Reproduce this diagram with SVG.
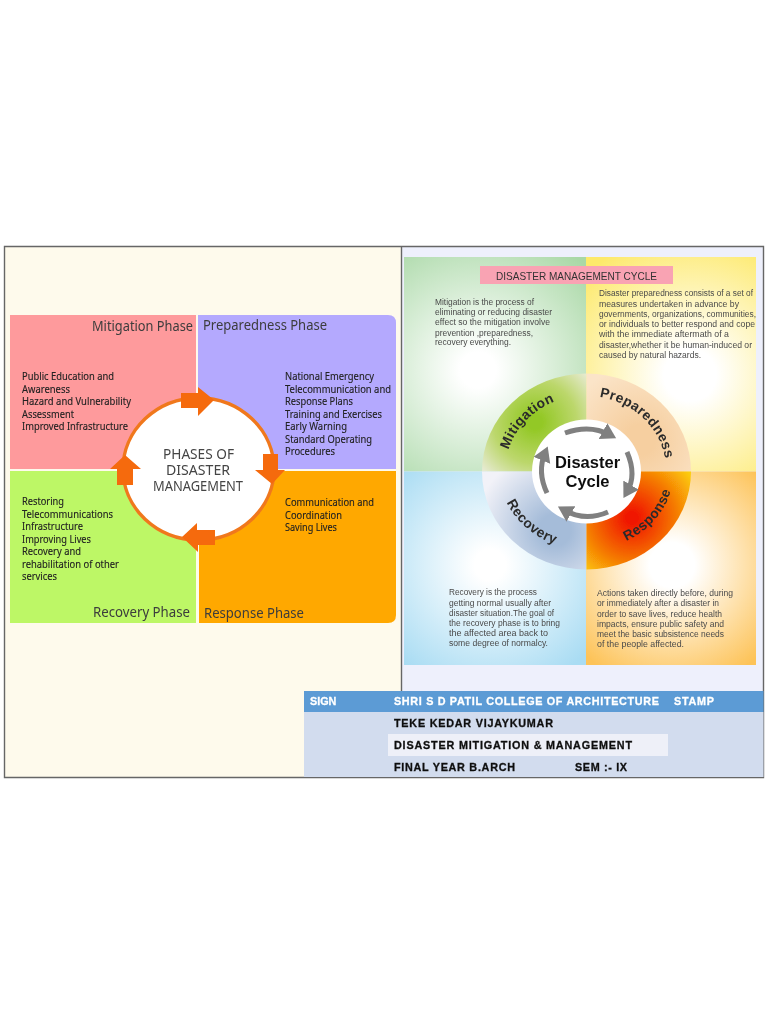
<svg xmlns="http://www.w3.org/2000/svg" width="768" height="1024" viewBox="0 0 768 1024">
<style>
.s{font-family:"Noto Sans","Open Sans",sans-serif;font-size:10px;fill:#222;stroke:#222;stroke-width:.12px}
.h{font-family:"Noto Sans","Open Sans",sans-serif;font-size:14px;fill:#3c3c3c}
.c{font-family:"Noto Sans","Open Sans",sans-serif;font-size:14.5px;fill:#444}
.d{font-family:"Liberation Sans",Arial,sans-serif;font-size:8.400px;fill:#4a4a4a}
.a{font-family:"Liberation Sans",Arial,sans-serif;font-weight:bold;font-size:13.800px;fill:#2b2b2b;letter-spacing:.4px}
.b{font-family:"Liberation Sans",Arial,sans-serif;font-weight:bold;font-size:10.800px;fill:#111;stroke:#111;stroke-width:.3px}
.w{fill:#fff;stroke:#fff}
.ar{fill:#f56a0c}
.g{fill:none;stroke:#808080;stroke-width:5;marker-end:url(#gh)}
</style>
<defs>
<filter id="soft" filterUnits="userSpaceOnUse" x="0" y="0" width="768" height="1024"><feGaussianBlur stdDeviation="0.4"/></filter>
<marker id="gh" markerUnits="userSpaceOnUse" markerWidth="20" markerHeight="20" refX="8" refY="9" orient="auto"><path d="M0,0L15,9L0,18Z" fill="#808080"/></marker>
<radialGradient id="q1" gradientUnits="userSpaceOnUse" cx="478" cy="370" r="150"><stop offset=".12" stop-color="#fff"/><stop offset="1" stop-color="#a9d8a6"/></radialGradient>
<radialGradient id="q2" gradientUnits="userSpaceOnUse" cx="690" cy="375" r="145"><stop offset=".18" stop-color="#fff"/><stop offset="1" stop-color="#fde96a"/></radialGradient>
<radialGradient id="q3" gradientUnits="userSpaceOnUse" cx="490" cy="565" r="130"><stop offset=".12" stop-color="#fff"/><stop offset="1" stop-color="#a9dcf3"/></radialGradient>
<radialGradient id="q4" gradientUnits="userSpaceOnUse" cx="672" cy="565" r="125"><stop offset=".18" stop-color="#fff"/><stop offset="1" stop-color="#fdc358"/></radialGradient>
<radialGradient id="r1" gradientUnits="userSpaceOnUse" cx="535" cy="422" r="70"><stop offset=".1" stop-color="#93c825"/><stop offset=".6" stop-color="#bcd76c"/><stop offset="1" stop-color="#e6ead0"/></radialGradient>
<radialGradient id="r2" gradientUnits="userSpaceOnUse" cx="640" cy="440" r="75"><stop offset=".2" stop-color="#f6cfa0"/><stop offset="1" stop-color="#fbe4c8"/></radialGradient>
<radialGradient id="r3" gradientUnits="userSpaceOnUse" cx="555" cy="530" r="80"><stop offset=".2" stop-color="#a5bcd9"/><stop offset="1" stop-color="#f2f2f8"/></radialGradient>
<radialGradient id="r4" gradientUnits="userSpaceOnUse" cx="632" cy="518" r="80"><stop offset=".05" stop-color="#f01200"/><stop offset=".55" stop-color="#f57a05"/><stop offset="1" stop-color="#fee10a"/></radialGradient>
<path id="pm" d="M505,471.500A81.500 76 0 0 1 586.500,395.500"/>
<path id="pp" d="M586.500,396A80 75.500 0 0 1 666.500,471.500"/>
<path id="pr" d="M499.500,471.500A87 78 0 0 0 586.500,549.500"/>
<path id="ps" d="M586.500,549.500A87 78 0 0 0 673.500,471.500"/>
</defs>
<rect width="768" height="1024" fill="#fff"/>
<g filter="url(#soft)">
<g id="frame">
<rect x="5" y="246" width="396" height="532" fill="#fefaec"/>
<rect x="401" y="246" width="363" height="445" fill="#eef0fc"/>
<path d="M4.500,246.500H763.500V777.500H4.500ZM401.500,246.500V691" fill="none" stroke="#666" stroke-width="1.400"/>
</g>
<g id="phases-quadrants">
<rect x="10" y="315" width="186" height="154" fill="#fe9a9c"/>
<path d="M198,315H388Q396,315 396,323V469H198Z" fill="#b4a9fe"/>
<rect x="10" y="471" width="186" height="152" fill="#bdf766"/>
<path d="M199,471H396V615Q396,623 388,623H199Z" fill="#ffa800"/>
</g>
<g id="phases-circle">
<ellipse cx="198.500" cy="469" rx="75.500" ry="71" fill="#fff" stroke="#f0781e" stroke-width="3.500"/>
<text class="c" x="198.500" y="458.500" text-anchor="middle" textLength="71" lengthAdjust="spacingAndGlyphs">PHASES OF</text>
<text class="c" x="198" y="474.500" text-anchor="middle" textLength="64" lengthAdjust="spacingAndGlyphs">DISASTER</text>
<text class="c" x="198" y="490.500" text-anchor="middle" textLength="90" lengthAdjust="spacingAndGlyphs">MANAGEMENT</text>
</g>
<g id="connectors">
<path class="ar" d="M181,393H198V387L214,400L198,416V408H181Z"/>
<path class="ar" d="M263,454H278V470H285L272,484L255,470H263Z"/>
<path class="ar" d="M215,530V545H198V552L182,537L197,523V530Z"/>
<path class="ar" d="M117,485V469H110L125,455L141,469H133V485Z"/>
</g>
<g id="mitigation-phase">
<text class="h" x="92" y="331" textLength="101" lengthAdjust="spacingAndGlyphs">Mitigation Phase</text>
<text class="s" x="22" y="380" textLength="92" lengthAdjust="spacingAndGlyphs">Public Education and</text>
<text class="s" x="22" y="392.500" textLength="48" lengthAdjust="spacingAndGlyphs">Awareness</text>
<text class="s" x="22" y="405" textLength="109" lengthAdjust="spacingAndGlyphs">Hazard and Vulnerability</text>
<text class="s" x="22" y="417.500" textLength="52" lengthAdjust="spacingAndGlyphs">Assessment</text>
<text class="s" x="22" y="430" textLength="106" lengthAdjust="spacingAndGlyphs">Improved Infrastructure</text>
</g>
<g id="preparedness-phase">
<text class="h" x="203" y="330" textLength="124" lengthAdjust="spacingAndGlyphs">Preparedness Phase</text>
<text class="s" x="285" y="380" textLength="89" lengthAdjust="spacingAndGlyphs">National Emergency</text>
<text class="s" x="285" y="392.500" textLength="106" lengthAdjust="spacingAndGlyphs">Telecommunication and</text>
<text class="s" x="285" y="405" textLength="68" lengthAdjust="spacingAndGlyphs">Response Plans</text>
<text class="s" x="285" y="417.500" textLength="97" lengthAdjust="spacingAndGlyphs">Training and Exercises</text>
<text class="s" x="285" y="430" textLength="62" lengthAdjust="spacingAndGlyphs">Early Warning</text>
<text class="s" x="285" y="442.500" textLength="87" lengthAdjust="spacingAndGlyphs">Standard Operating</text>
<text class="s" x="285" y="455" textLength="50" lengthAdjust="spacingAndGlyphs">Procedures</text>
</g>
<g id="recovery-phase">
<text class="s" x="22" y="505" textLength="42" lengthAdjust="spacingAndGlyphs">Restoring</text>
<text class="s" x="22" y="517.500" textLength="91" lengthAdjust="spacingAndGlyphs">Telecommunications</text>
<text class="s" x="22" y="530" textLength="61" lengthAdjust="spacingAndGlyphs">Infrastructure</text>
<text class="s" x="22" y="542.500" textLength="69" lengthAdjust="spacingAndGlyphs">Improving Lives</text>
<text class="s" x="22" y="555" textLength="59" lengthAdjust="spacingAndGlyphs">Recovery and</text>
<text class="s" x="22" y="567.500" textLength="97" lengthAdjust="spacingAndGlyphs">rehabilitation of other</text>
<text class="s" x="22" y="580" textLength="35" lengthAdjust="spacingAndGlyphs">services</text>
<text class="h" x="93" y="617" textLength="97" lengthAdjust="spacingAndGlyphs">Recovery Phase</text>
</g>
<g id="response-phase">
<text class="s" x="285" y="506" textLength="89" lengthAdjust="spacingAndGlyphs">Communication and</text>
<text class="s" x="285" y="518.500" textLength="57" lengthAdjust="spacingAndGlyphs">Coordination</text>
<text class="s" x="285" y="531" textLength="52" lengthAdjust="spacingAndGlyphs">Saving Lives</text>
<text class="h" x="204" y="618" textLength="100" lengthAdjust="spacingAndGlyphs">Response Phase</text>
</g>
<g id="cycle-quadrants">
<rect x="404" y="257" width="182" height="214.500" fill="url(#q1)"/>
<rect x="586" y="257" width="170" height="214.500" fill="url(#q2)"/>
<rect x="404" y="471.500" width="182" height="193.500" fill="url(#q3)"/>
<rect x="586" y="471.500" width="170" height="193.500" fill="url(#q4)"/>
</g>
<g id="cycle-title">
<rect x="480" y="266" width="193" height="18" fill="#f9a3b3"/>
<text x="576.500" y="279.500" text-anchor="middle" font-family="'Liberation Sans',Arial,sans-serif" font-size="11.500" fill="#333" textLength="161" lengthAdjust="spacingAndGlyphs">DISASTER MANAGEMENT CYCLE</text>
</g>
<g id="mitigation-text">
<text class="d" x="435" y="304.500" textLength="99" lengthAdjust="spacingAndGlyphs">Mitigation is the process of</text>
<text class="d" x="435" y="315" textLength="117" lengthAdjust="spacingAndGlyphs">eliminating or reducing disaster</text>
<text class="d" x="435" y="325" textLength="115" lengthAdjust="spacingAndGlyphs">effect so the mitigation involve</text>
<text class="d" x="435" y="335.500" textLength="98" lengthAdjust="spacingAndGlyphs">prevention ,preparedness,</text>
<text class="d" x="435" y="345" textLength="76" lengthAdjust="spacingAndGlyphs">recovery everything.</text>
</g>
<g id="preparedness-text">
<text class="d" x="599" y="296" textLength="154" lengthAdjust="spacingAndGlyphs">Disaster preparedness consists of a set of</text>
<text class="d" x="599" y="306.500" textLength="140" lengthAdjust="spacingAndGlyphs">measures undertaken in advance by</text>
<text class="d" x="599" y="316.500" textLength="157" lengthAdjust="spacingAndGlyphs">governments, organizations, communities,</text>
<text class="d" x="599" y="327" textLength="156" lengthAdjust="spacingAndGlyphs">or individuals to better respond and cope</text>
<text class="d" x="599" y="337" textLength="130" lengthAdjust="spacingAndGlyphs">with the immediate aftermath of a</text>
<text class="d" x="599" y="347.500" textLength="153" lengthAdjust="spacingAndGlyphs">disaster,whether it be human-induced or</text>
<text class="d" x="599" y="358" textLength="102" lengthAdjust="spacingAndGlyphs">caused by natural hazards.</text>
</g>
<g id="recovery-text">
<text class="d" x="449" y="595" textLength="88" lengthAdjust="spacingAndGlyphs">Recovery is the process</text>
<text class="d" x="449" y="605.500" textLength="102" lengthAdjust="spacingAndGlyphs">getting normal usually after</text>
<text class="d" x="449" y="615.500" textLength="105" lengthAdjust="spacingAndGlyphs">disaster situation.The goal of</text>
<text class="d" x="449" y="626" textLength="111" lengthAdjust="spacingAndGlyphs">the recovery phase is to bring</text>
<text class="d" x="449" y="636" textLength="99" lengthAdjust="spacingAndGlyphs">the affected area back to</text>
<text class="d" x="449" y="646" textLength="99" lengthAdjust="spacingAndGlyphs">some degree of normalcy.</text>
</g>
<g id="response-text">
<text class="d" x="597" y="596" textLength="136" lengthAdjust="spacingAndGlyphs">Actions taken directly before, during</text>
<text class="d" x="597" y="606" textLength="122" lengthAdjust="spacingAndGlyphs">or immediately after a disaster in</text>
<text class="d" x="597" y="616.500" textLength="125" lengthAdjust="spacingAndGlyphs">order to save lives, reduce health</text>
<text class="d" x="597" y="627" textLength="127" lengthAdjust="spacingAndGlyphs">impacts, ensure public safety and</text>
<text class="d" x="597" y="637" textLength="127" lengthAdjust="spacingAndGlyphs">meet the basic subsistence needs</text>
<text class="d" x="597" y="647" textLength="87" lengthAdjust="spacingAndGlyphs">of the people affected.</text>
</g>
<g id="cycle-ring">
<path d="M586.500,471.500H482A104.500 98 0 0 1 586.500,373.500Z" fill="url(#r1)"/>
<path d="M586.500,471.500V373.500A104.500 98 0 0 1 691,471.500Z" fill="url(#r2)"/>
<path d="M586.500,471.500H482A104.500 98 0 0 0 586.500,569.500Z" fill="url(#r3)"/>
<path d="M586.500,471.500V569.500A104.500 98 0 0 0 691,471.500Z" fill="url(#r4)"/>
<ellipse cx="586.500" cy="471.500" rx="54.500" ry="52" fill="#fff"/>
</g>
<g id="cycle-labels">
<text class="a"><textPath href="#pm" startOffset="22">Mitigation</textPath></text>
<text class="a"><textPath href="#pp" startOffset="13">Preparedness</textPath></text>
<text class="a"><textPath href="#pr" startOffset="32">Recovery</textPath></text>
<text class="a"><textPath href="#ps" startOffset="41">Response</textPath></text>
</g>
<g id="cycle-center">
<path class="g" d="M565,433Q590,424 610,435"/>
<path class="g" d="M627,452Q637,475 627,492"/>
<path class="g" d="M608,512Q585,522 564,510"/>
<path class="g" d="M547,493Q537,472 545,453"/>
<text x="587.500" y="468" text-anchor="middle" font-family="'Liberation Sans',Arial,sans-serif" font-weight="bold" font-size="16.500" fill="#111">Disaster</text>
<text x="587.500" y="487" text-anchor="middle" font-family="'Liberation Sans',Arial,sans-serif" font-weight="bold" font-size="16.500" fill="#111">Cycle</text>
</g>
<g id="title-block">
<rect x="304" y="691" width="459.500" height="21" fill="#5b9bd5"/>
<rect x="304" y="712" width="459.500" height="65" fill="#d2dcee"/>
<rect x="388" y="734" width="280" height="22" fill="#eef0f8"/>
<text class="b w" x="310" y="705">SIGN</text>
<text class="b w" x="394" y="705" textLength="265">SHRI S D PATIL COLLEGE OF ARCHITECTURE</text>
<text class="b w" x="674" y="705" textLength="40">STAMP</text>
<text class="b" x="394" y="727" textLength="159">TEKE KEDAR VIJAYKUMAR</text>
<text class="b" x="394" y="749" textLength="238">DISASTER MITIGATION &amp; MANAGEMENT</text>
<text class="b" x="394" y="771" textLength="121">FINAL YEAR B.ARCH</text>
<text class="b" x="575" y="771" textLength="52">SEM :- IX</text>
</g>
</g>
</svg>
